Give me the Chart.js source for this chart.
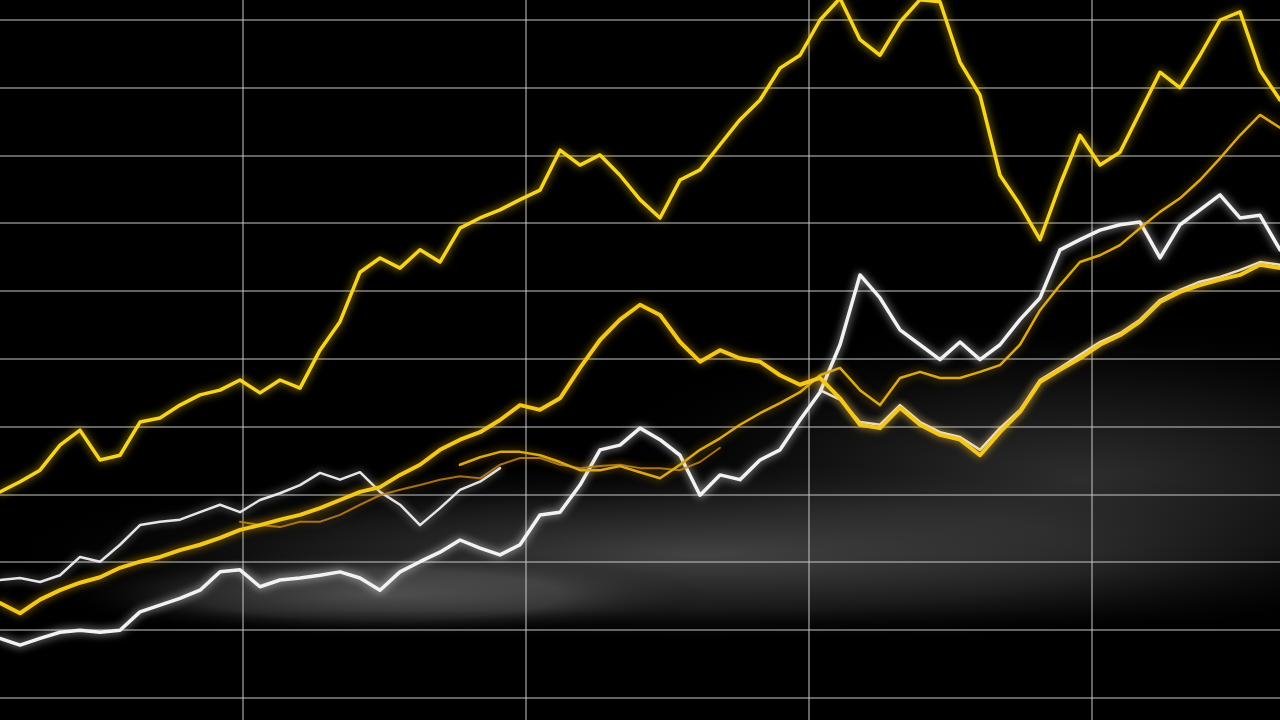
<!DOCTYPE html>
<html>
<head>
<meta charset="utf-8">
<title>Market lines</title>
<script src="https://cdn.jsdelivr.net/npm/chart.js@4.4.1/dist/chart.umd.min.js"></script>
<style>
  html, body { margin: 0; padding: 0; background: #000; }
  #wrap { width: 1280px; height: 720px; }
</style>
</head>
<body>
<div id="wrap"><canvas id="lines"></canvas></div>
<script>
// time index, one step per sample
const weeks = [0,1,2,3,4,5,6,7,8,9,10,11,12,13,14,15,16,17,18,19,20,21,22,23,24,25,26,27,28,29,30,31,32,
  33,34,35,36,37,38,39,40,41,42,43,44,45,46,47,48,49,50,51,52,53,54,55,56,57,58,59,60,61,62,63,64];

// series values (index level)
const goldTop = [30.4,31.9,33.6,37.3,39.5,35.1,35.8,40.7,41.3,43.2,44.7,45.4,46.9,45.0,46.9,45.7,51.3,55.5,62.8,64.9,
  63.4,66.1,64.3,69.3,70.8,72.0,73.5,74.9,80.8,78.6,80.1,77.1,73.5,70.8,76.4,77.9,81.6,85.3,88.2,92.9,
  94.8,100.0,103.2,97.1,94.8,99.7,103.0,102.7,93.8,88.9,77.1,72.7,67.6,75.7,83.0,78.6,80.5,86.4,92.3,90.0,
  94.8,100.0,101.2,92.6,88.2];

const goldMid = [14.0,12.5,14.5,15.9,17.0,17.8,19.2,20.1,20.8,21.8,22.6,23.6,24.8,25.5,26.3,27.0,28.0,29.2,30.4,31.1,
  32.9,34.4,36.6,38.1,39.2,41.0,43.2,42.5,44.2,48.7,52.8,55.8,58.0,56.5,52.5,49.6,51.3,50.1,49.6,47.6,
  46.2,47.2,44.2,40.3,39.8,42.8,40.3,38.8,38.1,35.8,39.2,42.2,46.6,48.4,50.1,52.1,53.5,55.5,58.4,59.9,
  60.9,61.7,62.4,63.9,63.4];

const goldSmooth = [null,null,null,null,null,null,null,null,null,null,null,null,null,null,null,null,null,null,null,null,
  null,null,null,34.4,35.5,36.3,36.3,35.8,34.8,33.6,33.6,34.2,33.3,32.4,34.4,36.6,38.3,40.3,42.0,43.5,
  45.1,47.6,48.7,45.4,43.2,47.2,48.1,47.2,47.2,48.1,49.1,52.1,57.2,60.9,64.3,65.3,66.8,69.3,71.7,73.7,
  76.4,79.6,83.0,86.0,84.1];

const amberThin = [null,null,null,null,null,null,null,null,null,null,null,null,26.0,25.5,25.2,26.0,26.0,27.0,28.5,29.9,
  30.7,31.4,32.2,32.7,32.4,34.4,35.4,35.4,34.4,33.9,34.2,34.4,33.9,33.9,33.6,34.8,36.9,null,null,null,
  null,null,null,null,null,null,null,null,null,null,null,null,null,null,null,null,null,null,null,null,
  null,null,null,null,null];

const whiteUpper = [17.4,17.7,17.1,18.1,20.8,20.1,22.6,25.5,26.0,26.3,27.4,28.5,27.4,29.2,30.2,31.4,33.2,32.2,33.3,30.4,
  28.5,25.5,28.0,30.7,31.9,33.9,null,null,null,null,null,null,null,null,null,null,null,null,null,null,
  null,null,null,null,null,null,null,null,null,null,null,null,null,null,null,null,null,null,null,null,
  null,null,null,null,null];

const whiteLower = [8.8,7.8,8.8,9.7,10.0,9.7,10.0,12.7,13.7,14.7,15.9,18.6,18.9,16.4,17.4,17.7,18.1,18.6,17.7,15.9,
  18.6,20.1,21.5,23.3,22.1,21.1,22.6,27.0,27.4,31.4,36.6,37.3,39.8,38.1,35.8,29.9,32.9,32.2,35.1,36.6,
  41.0,45.1,52.1,62.4,59.0,54.3,52.1,49.9,52.5,49.9,52.1,55.8,59.0,66.1,67.6,69.0,69.8,70.2,64.9,69.8,
  72.0,74.2,70.8,71.2,66.1];

const whiteBand = [null,null,null,null,null,null,null,null,null,null,null,null,null,null,null,null,null,null,null,null,
  null,null,null,null,null,null,null,null,null,null,null,null,null,null,null,null,null,null,null,null,
  null,45.4,44.0,40.7,40.3,43.2,40.7,39.2,38.5,36.6,39.8,42.5,46.9,48.7,50.6,52.5,53.8,55.8,58.7,60.2,
  61.4,62.1,63.1,64.3,63.9];

// grid positions
const xGrid = [12.15, 26.3, 40.45, 54.6];
const yGrid = [0, 10, 20, 30, 40, 50, 60, 70, 80, 90, 100];

// soft grey haze behind the lines
function haze(ctx, cx, cy, rx, ry, color) {
  ctx.save();
  ctx.translate(cx, cy);
  ctx.scale(1, ry / rx);
  const g = ctx.createRadialGradient(0, 0, 0, 0, 0, rx);
  g.addColorStop(0, color);
  g.addColorStop(0.55, color.replace(/[\d.]+\)$/, '0.25)'));
  g.addColorStop(1, 'rgba(0,0,0,0)');
  ctx.fillStyle = g;
  ctx.fillRect(-rx, -rx, rx * 2, rx * 2);
  ctx.restore();
}

const backdrop = {
  id: 'backdrop',
  beforeDraw(chart) {
    const ctx = chart.ctx;
    const w = chart.width, h = chart.height;
    ctx.save();
    ctx.fillStyle = '#000';
    ctx.fillRect(0, 0, w, h);
    haze(ctx, 1080, 480, 520, 170, 'rgba(62,62,62,0.75)');
    haze(ctx, 700, 555, 720, 100, 'rgba(95,95,95,0.7)');
    haze(ctx, 380, 595, 330, 45, 'rgba(150,150,150,0.45)');
    const fade = ctx.createLinearGradient(0, 610, 0, 648);
    fade.addColorStop(0, 'rgba(0,0,0,0)');
    fade.addColorStop(1, 'rgba(0,0,0,1)');
    ctx.fillStyle = fade;
    ctx.fillRect(0, 610, w, h - 610);
    ctx.restore();
  }
};

// glow around each line
const glow = {
  id: 'glow',
  beforeDatasetDraw(chart, args) {
    const ds = chart.data.datasets[args.index];
    chart.ctx.save();
    chart.ctx.shadowColor = ds.glowColor;
    chart.ctx.shadowBlur = 8;
  },
  afterDatasetDraw(chart) {
    chart.ctx.restore();
  }
};

function line(data, color, width, glowColor) {
  return {
    data: data,
    borderColor: color,
    borderWidth: width,
    glowColor: glowColor,
    pointRadius: 0,
    tension: 0,
    spanGaps: false,
    borderJoinStyle: 'round',
    borderCapStyle: 'round'
  };
}

const ctx = document.getElementById('lines').getContext('2d');
new Chart(ctx, {
  type: 'line',
  data: {
    labels: weeks,
    datasets: [
      line(goldTop, '#f7d41e', 3.5, 'rgba(255,210,0,0.8)'),
      line(goldMid, '#f3c81a', 4, 'rgba(230,170,0,0.8)'),
      line(whiteBand, '#ececec', 2.5, 'rgba(255,255,255,0.6)'),
      line(goldSmooth, '#dcaa18', 2.5, 'rgba(220,160,0,0.7)'),
      line(amberThin, 'rgba(190,130,30,0.85)', 2, 'rgba(190,120,0,0.5)'),
      line(whiteUpper, '#e6e6e6', 2.5, 'rgba(255,255,255,0.6)'),
      line(whiteLower, '#f2f2f2', 3.5, 'rgba(255,255,255,0.8)')
    ]
  },
  options: {
    responsive: true,
    maintainAspectRatio: false,
    animation: false,
    layout: { padding: 0 },
    plugins: {
      legend: { display: false },
      tooltip: { enabled: false }
    },
    scales: {
      x: {
        type: 'linear',
        min: 0,
        max: 64,
        afterBuildTicks: (scale) => { scale.ticks = xGrid.map(v => ({ value: v })); },
        ticks: { display: false },
        border: { display: false },
        grid: { color: 'rgba(200,200,200,0.5)', lineWidth: 2, drawTicks: false }
      },
      y: {
        min: -3.25,
        max: 102.95,
        afterBuildTicks: (scale) => { scale.ticks = yGrid.map(v => ({ value: v })); },
        ticks: { display: false },
        border: { display: false },
        grid: { color: 'rgba(200,200,200,0.5)', lineWidth: 2, drawTicks: false }
      }
    }
  },
  plugins: [backdrop, glow]
});
</script>
</body>
</html>
